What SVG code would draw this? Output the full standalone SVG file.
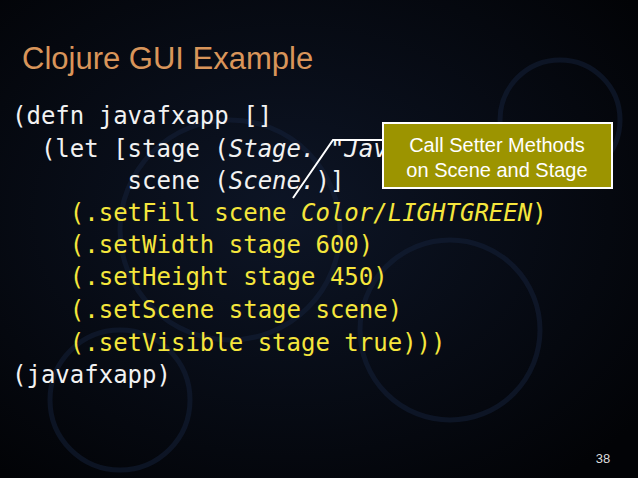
<svg xmlns="http://www.w3.org/2000/svg" width="638" height="478" viewBox="0 0 638 478">
<defs>
<radialGradient id="bg" cx="0.45" cy="0.45" r="0.7"><stop offset="0" stop-color="#0d1526"/><stop offset="1" stop-color="#020306"/></radialGradient>
<style>
.c{font-family:"DejaVu Sans Mono","Liberation Mono",monospace;font-size:24px;white-space:pre}
.w{fill:#f2f2f2}.y{fill:#f5e63c}.i{font-style:italic}
.s{font-family:"Liberation Sans",Arial,sans-serif}
</style>
</defs>
<rect width="638" height="478" fill="url(#bg)"/>
<g fill="none" stroke="#15223c" stroke-width="5" opacity="0.5">
<circle cx="230" cy="230" r="110"/><circle cx="450" cy="330" r="90"/><circle cx="120" cy="400" r="70"/><circle cx="560" cy="120" r="60"/>
</g>
<text class="s" x="22" y="69" font-size="31" fill="#d9955a">Clojure GUI Example</text>
<g id="code">
<text class="c w" x="12" y="124">(defn javafxapp []</text>
<text class="c w" x="12" y="157">  (let [stage (<tspan class="i">Stage.</tspan> "<tspan class="i">Java</tspan></text>
<text class="c w" x="12" y="189">        scene (<tspan class="i">Scene.</tspan>)]</text>
<text class="c y" x="12" y="221">    (.setFill scene <tspan class="i">Color/LIGHTGREEN</tspan>)</text>
<text class="c y" x="12" y="253">    (.setWidth stage 600)</text>
<text class="c y" x="12" y="285">    (.setHeight stage 450)</text>
<text class="c y" x="12" y="318">    (.setScene stage scene)</text>
<text class="c y" x="12" y="351">    (.setVisible stage true)))</text>
<text class="c w" x="12" y="383">(javafxapp)</text>
</g>
<g id="connectors"><polyline points="293,198 333,140 383,140" fill="none" stroke="#ffffff" stroke-width="2"/></g>
<g id="callout">
<rect x="383" y="123" width="229" height="65" fill="#9c9400" stroke="#ffffff" stroke-width="2"/>
<text class="s" x="497" y="152" text-anchor="middle" font-size="20" fill="#ffffff">Call Setter Methods</text>
<text class="s" x="497" y="177" text-anchor="middle" font-size="20" fill="#ffffff">on Scene and Stage</text>
</g>
<text class="s" x="603" y="463" text-anchor="middle" font-size="13" fill="#dddddd">38</text>
</svg>
